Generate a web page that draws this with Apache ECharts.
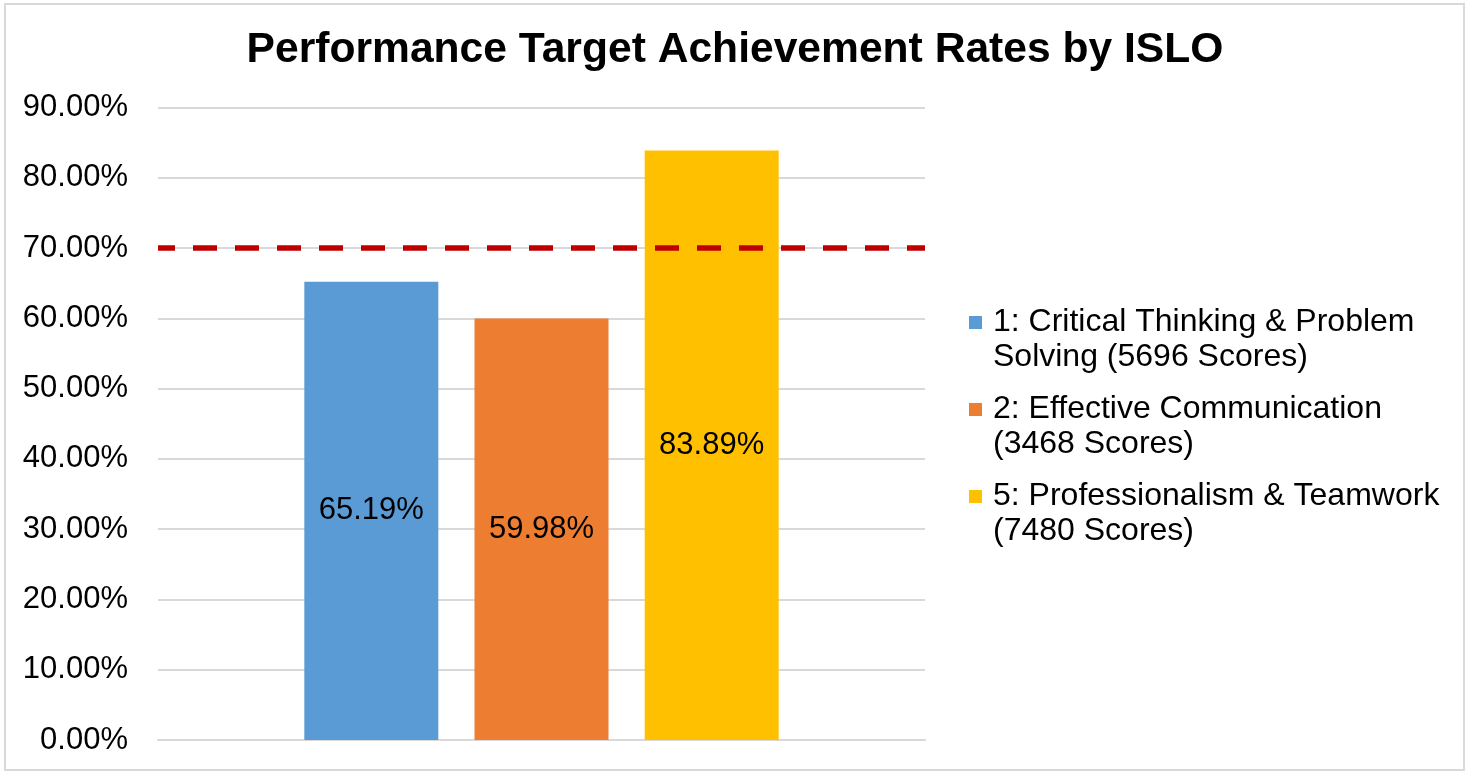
<!DOCTYPE html>
<html>
<head>
<meta charset="utf-8">
<script src="https://cdn.jsdelivr.net/npm/echarts@6/dist/echarts.min.js"></script>
<style>
html,body{margin:0;padding:0;background:#fff;}
#c{width:1470px;height:775px;}
</style>
</head>
<body>
<div id="c"></div>
<script>
// ---- data ----
const categories = ['ISLO'];
const seriesNames = [
  '1: Critical Thinking & Problem\nSolving (5696 Scores)',
  '2: Effective Communication\n(3468 Scores)',
  '5: Professionalism & Teamwork\n(7480 Scores)'
];
const seriesValues = [65.19, 59.98, 83.89];
const seriesColors = ['#5B9BD5', '#ED7D31', '#FFC000'];
const targetValue = 70;
const yMin = 0, yMax = 90, yStep = 10;
const titleText = 'Performance Target Achievement Rates by ISLO';

// ---- chart ----
const FONT = "'Liberation Sans', Arial, sans-serif";
const chart = echarts.init(document.getElementById('c'), null, {renderer: 'canvas'});

const series = seriesNames.map((name, i) => ({
  name: name,
  type: 'bar',
  data: [seriesValues[i]],
  barWidth: 134,
  barGap: '27%',
  itemStyle: {color: seriesColors[i]},
  label: {
    show: true,
    position: 'inside',
    fontSize: 31,
    fontFamily: FONT,
    color: '#000',
    formatter: p => Number(p.value).toFixed(2) + '%'
  },
  emphasis: {disabled: true}
}));

series[series.length - 1].markLine = {
  silent: true,
  symbol: ['none', 'none'],
  label: {show: false},
  emphasis: {disabled: true},
  lineStyle: {color: '#C00000', width: 5.5, type: [24, 18], dashOffset: 7, opacity: 1},
  data: [{yAxis: targetValue}]
};

chart.setOption({
  animation: false,
  backgroundColor: '#fff',
  textStyle: {fontFamily: FONT},
  title: {
    text: titleText,
    left: 'center',
    top: 29,
    padding: 0,
    textStyle: {fontSize: 42.6, fontWeight: 'bold', color: '#000', fontFamily: FONT}
  },
  graphic: [{
    type: 'rect',
    shape: {x: 5, y: 4, width: 1459, height: 766},
    style: {fill: 'none', stroke: '#d9d9d9', lineWidth: 2},
    silent: true,
    z: -1
  }],
  legend: {
    data: seriesNames,
    orient: 'vertical',
    left: 969,
    top: 305,
    padding: 0,
    itemWidth: 19,
    itemHeight: 70,
    itemGap: 17,
    selectedMode: false,
    icon: 'path://M0,0L0,0M0,11L13,11L13,24L0,24ZM19,70L19,70',
    textStyle: {fontSize: 32, lineHeight: 35, color: '#000', fontFamily: FONT}
  },
  grid: {left: 158, right: 545, top: 107.5, bottom: 35, containLabel: false},
  xAxis: {
    type: 'category',
    data: categories,
    axisLine: {show: true, lineStyle: {color: '#d9d9d9', width: 2}},
    axisTick: {show: false},
    axisLabel: {show: false},
    splitLine: {show: false}
  },
  yAxis: {
    type: 'value',
    min: yMin,
    max: yMax,
    interval: yStep,
    axisLine: {show: false},
    axisTick: {show: false},
    axisLabel: {
      fontSize: 31,
      color: '#000',
      fontFamily: FONT,
      margin: 30,
      formatter: v => v.toFixed(2) + '%'
    },
    splitLine: {lineStyle: {color: '#d9d9d9', width: 2}}
  },
  series: series
});
</script>
</body>
</html>
